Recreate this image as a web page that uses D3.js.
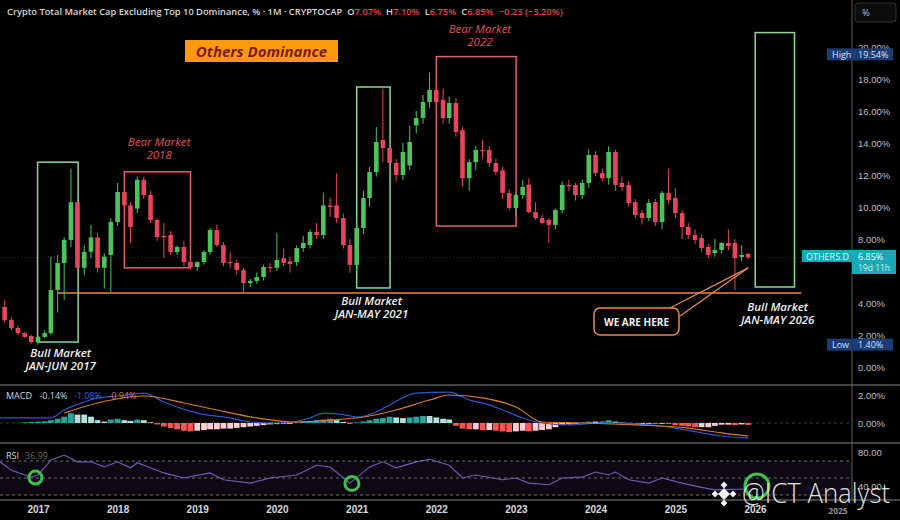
<!DOCTYPE html>
<html>
<head>
<meta charset="utf-8">
<script src="https://cdn.jsdelivr.net/npm/d3@7"></script>
<style>
  body { margin: 0; background: #000; }
  svg { display: block; font-family: "Open Sans", "DejaVu Sans", sans-serif; }
</style>
</head>
<body>
<svg></svg>
<script>
// monthly candles: month, open, high, low, close (in %)
let candles = [
  ['2016-08', 3.75, 4.2, 2.8, 2.94], ['2016-09', 2.94, 3.1, 2.3, 2.44], ['2016-10', 2.44, 2.6, 2.0, 2.12],
  ['2016-11', 2.12, 2.2, 1.8, 1.88], ['2016-12', 1.94, 2.0, 1.45, 1.56],
  ['2017-01', 1.56, 1.95, 1.4, 1.88], ['2017-02', 1.88, 2.3, 1.8, 2.12], ['2017-03', 2.12, 6.9, 2.0, 4.81],
  ['2017-04', 4.81, 7.0, 3.4, 6.5], ['2017-05', 6.5, 8.1, 4.2, 7.94], ['2017-06', 7.94, 12.4, 7.5, 10.3],
  ['2017-07', 10.3, 10.6, 6.0, 6.2], ['2017-08', 6.2, 7.6, 5.75, 7.2], ['2017-09', 7.2, 8.9, 6.8, 8.1],
  ['2017-10', 8.1, 8.4, 5.9, 6.2], ['2017-11', 6.2, 7.1, 4.9, 6.9], ['2017-12', 7.0, 9.3, 4.7, 9.06],
  ['2018-01', 9.06, 11.5, 8.8, 10.94], ['2018-02', 10.94, 11.1, 9.6, 10.1], ['2018-03', 10.1, 10.3, 7.75, 8.75],
  ['2018-04', 9.9, 11.9, 9.6, 11.7], ['2018-05', 11.7, 11.9, 10.5, 10.75], ['2018-06', 10.75, 11.0, 9.0, 9.19],
  ['2018-07', 9.19, 9.3, 7.9, 8.12], ['2018-08', 8.2, 9.0, 6.8, 8.1], ['2018-09', 8.25, 8.5, 7.0, 7.19],
  ['2018-10', 7.19, 7.6, 7.0, 7.5], ['2018-11', 7.5, 7.9, 6.3, 6.56], ['2018-12', 6.56, 6.7, 6.1, 6.25],
  ['2019-01', 6.25, 6.6, 6.0, 6.56], ['2019-02', 6.56, 7.3, 6.4, 7.19], ['2019-03', 7.19, 8.7, 7.0, 8.56],
  ['2019-04', 8.56, 8.9, 7.5, 7.62], ['2019-05', 7.62, 7.8, 6.3, 6.5], ['2019-06', 6.56, 7.2, 6.2, 6.5],
  ['2019-07', 6.5, 6.7, 5.8, 6.06], ['2019-08', 6.06, 6.2, 4.6, 5.25], ['2019-09', 5.25, 5.5, 5.0, 5.38],
  ['2019-10', 5.38, 5.9, 5.2, 5.62], ['2019-11', 5.62, 6.4, 5.4, 6.25], ['2019-12', 6.25, 6.5, 5.9, 6.2],
  ['2020-01', 6.2, 8.4, 6.0, 6.69], ['2020-02', 6.8, 7.4, 6.3, 6.5], ['2020-03', 6.6, 6.9, 5.9, 6.44],
  ['2020-04', 6.56, 7.6, 6.3, 7.44], ['2020-05', 7.44, 8.2, 7.2, 7.75], ['2020-06', 7.62, 8.6, 7.4, 8.44],
  ['2020-07', 8.44, 9.0, 8.0, 8.25], ['2020-08', 8.25, 10.9, 8.0, 10.1], ['2020-09', 10.1, 10.6, 9.4, 10.0],
  ['2020-10', 10.1, 12.1, 9.0, 9.31], ['2020-11', 9.31, 9.6, 7.4, 7.62], ['2020-12', 7.62, 8.0, 5.9, 6.38],
  ['2021-01', 6.38, 9.0, 6.0, 8.69], ['2021-02', 8.69, 11.0, 8.3, 10.56], ['2021-03', 10.56, 12.5, 10.0, 12.19],
  ['2021-04', 12.19, 15.0, 11.9, 14.06], ['2021-05', 14.19, 17.4, 12.8, 13.69], ['2021-06', 13.69, 14.0, 12.2, 12.75],
  ['2021-07', 12.75, 13.0, 11.6, 12.0], ['2021-08', 12.0, 14.0, 11.7, 13.44], ['2021-09', 12.6, 15.1, 12.3, 14.06],
  ['2021-10', 15.1, 16.0, 14.6, 15.56], ['2021-11', 15.56, 17.0, 15.2, 16.56], ['2021-12', 16.56, 18.4, 16.2, 17.31],
  ['2022-01', 17.31, 17.6, 16.3, 16.56], ['2022-02', 16.7, 17.4, 15.2, 15.56], ['2022-03', 15.56, 16.9, 15.2, 16.5],
  ['2022-04', 16.5, 16.8, 14.4, 14.69], ['2022-05', 14.8, 15.0, 11.3, 11.8], ['2022-06', 11.8, 13.0, 11.0, 12.8],
  ['2022-07', 12.8, 13.8, 12.3, 13.56], ['2022-08', 13.56, 14.2, 13.0, 13.5], ['2022-09', 13.56, 13.8, 12.5, 12.75],
  ['2022-10', 12.75, 13.0, 12.0, 12.19], ['2022-11', 12.3, 12.5, 10.5, 10.88], ['2022-12', 10.88, 11.1, 9.8, 9.94],
  ['2023-01', 9.94, 10.9, 9.4, 10.75], ['2023-02', 10.75, 11.7, 10.5, 11.25], ['2023-03', 11.4, 11.8, 9.6, 9.69],
  ['2023-04', 9.69, 10.3, 9.2, 9.31], ['2023-05', 9.31, 9.5, 8.9, 9.0], ['2023-06', 9.19, 9.3, 7.75, 8.88],
  ['2023-07', 8.88, 9.9, 8.6, 9.81], ['2023-08', 9.81, 11.6, 9.6, 11.38], ['2023-09', 11.38, 11.7, 11.0, 11.3],
  ['2023-10', 11.38, 11.5, 10.4, 10.75], ['2023-11', 10.75, 11.7, 10.5, 11.5], ['2023-12', 11.5, 13.6, 11.2, 13.25],
  ['2024-01', 13.25, 13.5, 11.9, 12.12], ['2024-02', 12.12, 12.4, 11.6, 11.8], ['2024-03', 11.8, 13.8, 11.4, 13.44],
  ['2024-04', 13.44, 13.6, 11.0, 11.38], ['2024-05', 11.5, 11.9, 11.0, 11.25], ['2024-06', 11.38, 11.6, 10.0, 10.25],
  ['2024-07', 10.3, 10.5, 9.3, 9.5], ['2024-08', 9.62, 9.8, 8.9, 9.31], ['2024-09', 9.31, 10.5, 9.1, 10.25],
  ['2024-10', 10.31, 10.5, 8.8, 9.06], ['2024-11', 9.06, 11.0, 8.6, 10.88], ['2024-12', 10.88, 12.4, 10.2, 10.44],
  ['2025-01', 10.56, 11.2, 9.3, 9.62], ['2025-02', 9.62, 9.8, 8.0, 8.75], ['2025-03', 8.75, 9.0, 8.0, 8.25],
  ['2025-04', 8.25, 8.6, 7.7, 7.94], ['2025-05', 8.06, 8.3, 7.2, 7.44], ['2025-06', 7.5, 7.7, 6.8, 7.0],
  ['2025-07', 7.12, 8.0, 6.9, 7.31], ['2025-08', 7.31, 7.8, 7.1, 7.75], ['2025-09', 7.75, 8.6, 7.3, 7.56],
  ['2025-10', 7.75, 8.0, 4.8, 6.81], ['2025-11', 6.88, 7.6, 6.6, 7.0], ['2025-12', 7.07, 7.10, 6.75, 6.85]
];

// MACD histogram, one value per month starting Nov 2016
let histStart = '2016-11';
let macdHist = [
  0.05, 0.08,
  0.1, 0.12, 0.2, 0.3, 0.45, 0.7, 0.6, 0.6, 0.45, 0.2, 0.1, 0.25,
  0.3, 0.2, 0.15, 0.25, 0.2, 0.05, -0.1, -0.25, -0.35, -0.45, -0.55, -0.6,
  -0.55, -0.5, -0.45, -0.45, -0.4, -0.4, -0.35, -0.3, -0.25, -0.2, -0.15, -0.1,
  -0.08, -0.05, -0.02, 0.05, 0.1, 0.15, 0.2, 0.25, 0.3, 0.2, 0.08, 0.02,
  0.05, 0.1, 0.2, 0.3, 0.35, 0.45, 0.4, 0.35, 0.4, 0.45, 0.5, 0.5,
  0.4, 0.3, 0.25, -0.2, -0.4, -0.45, -0.45, -0.5, -0.5, -0.55, -0.6, -0.65,
  -0.6, -0.55, -0.6, -0.55, -0.5, -0.45, -0.3, -0.15, -0.1, -0.05, 0.05, 0.1,
  0.1, 0.12, 0.2, 0.1, 0.05, -0.05, -0.1, -0.1, -0.05, -0.08, -0.05, -0.08,
  -0.15, -0.2, -0.25, -0.3, -0.3, -0.3, -0.2, -0.12, -0.12, -0.15, -0.1, -0.14
];

// MACD line (blue) and signal (orange)
let macdLine = [
  ['2016-07', 0.36], ['2017-03', 0.36], ['2017-05', 0.93], ['2017-08', 1.5], ['2017-10', 1.79],
  ['2018-01', 1.93], ['2018-05', 2.14], ['2018-08', 1.5], ['2019-01', 0.71], ['2019-06', 0.36],
  ['2019-09', 0.07], ['2020-01', 0.0], ['2020-06', 0.36], ['2020-08', 0.71], ['2020-11', 0.6],
  ['2021-01', 0.43], ['2021-04', 0.79], ['2021-06', 1.29], ['2021-10', 2.14], ['2022-03', 2.2],
  ['2022-06', 1.64], ['2022-09', 1.29], ['2022-11', 0.93], ['2023-02', 0.36], ['2023-05', 0.0],
  ['2023-09', -0.14], ['2024-02', 0.0], ['2024-05', 0.0], ['2024-09', -0.14], ['2025-01', -0.36],
  ['2025-05', -0.71], ['2025-08', -0.93], ['2025-12', -1.08]
];
let signalLine = [
  ['2017-05', 0.71], ['2017-10', 1.43], ['2018-05', 1.93], ['2018-11', 1.43], ['2019-04', 0.93],
  ['2019-10', 0.36], ['2020-04', 0.07], ['2020-09', 0.21], ['2021-02', 0.43], ['2021-07', 0.93],
  ['2021-12', 1.64], ['2022-03', 2.0], ['2022-08', 1.79], ['2023-01', 1.14], ['2023-05', 0.07],
  ['2023-11', 0.0], ['2024-07', -0.14], ['2025-03', -0.36], ['2025-08', -0.71], ['2025-12', -0.94]
];

// RSI
let rsiLine = [
  ['2016-07', 71], ['2016-09', 59], ['2016-12', 51], ['2017-01', 53.5], ['2017-03', 71], ['2017-05', 77],
  ['2017-07', 69], ['2017-09', 69], ['2017-11', 63], ['2018-01', 69], ['2018-03', 62], ['2018-04', 68],
  ['2018-08', 56], ['2018-11', 50], ['2019-03', 56], ['2019-05', 48], ['2019-09', 44], ['2019-12', 50],
  ['2020-04', 53.5], ['2020-07', 65], ['2020-09', 63], ['2020-12', 44], ['2021-03', 63], ['2021-05', 69],
  ['2021-07', 62], ['2021-10', 69], ['2021-12', 72], ['2022-03', 65], ['2022-05', 50], ['2022-07', 53.5],
  ['2022-11', 48], ['2023-01', 50], ['2023-03', 44], ['2023-06', 42], ['2023-08', 50], ['2023-11', 51],
  ['2024-01', 57], ['2024-03', 53.5], ['2024-04', 57], ['2024-06', 48], ['2024-09', 44], ['2024-11', 50],
  ['2025-02', 44], ['2025-05', 39], ['2025-07', 36], ['2025-12', 37]
];

let priceTicks = [0, 2, 4, 8, 10, 12, 14, 16, 18, 20];
let yearTicks = ['2017', '2018', '2019', '2020', '2021', '2022', '2023', '2024', '2025', '2026'];

let width = 900;
let height = 520;
let axisX = 852;

let parseMonth = d3.timeParse('%Y-%m');
let svg = d3.select('svg').attr('width', width).attr('height', height);

let xScale = d3.scaleTime()
  .domain([new Date(2017, 0, 1), new Date(2026, 0, 1)])
  .range([38, 755]);
let yScale = d3.scaleLinear().domain([0, 20]).range([367, 47]);
let macdScale = d3.scaleLinear().domain([0, 2]).range([423, 395]);
let rsiScale = d3.scaleLinear().domain([30, 70]).range([495, 461]);

let green = '#4cc35c';
let red = '#e8455a';

// background
svg.append('rect').attr('width', width).attr('height', height).attr('fill', '#000');

// pane separators + price axis divider
[385, 443, 500].forEach(y => {
  svg.append('line').attr('x1', 0).attr('x2', width).attr('y1', y).attr('y2', y)
     .attr('stroke', '#5a5a5a').attr('stroke-width', 1.5);
});
svg.append('line').attr('x1', axisX).attr('x2', axisX).attr('y1', 0).attr('y2', 500)
   .attr('stroke', '#5a5a5a').attr('stroke-width', 1);

// current price line
svg.append('line').attr('x1', 0).attr('x2', axisX)
   .attr('y1', yScale(6.85)).attr('y2', yScale(6.85))
   .attr('stroke', '#2e2e2e').attr('stroke-dasharray', '1,2');

// support line
svg.append('line')
   .attr('x1', xScale(new Date(2017, 3, 1))).attr('x2', xScale(new Date(2026, 7, 1)))
   .attr('y1', yScale(4.62)).attr('y2', yScale(4.62))
   .attr('stroke', '#e8894a').attr('stroke-width', 1.5);

// annotation boxes
let boxes = [
  { x0: new Date(2016, 11, 30), x1: new Date(2017, 6, 4), y0: 1.56, y1: 12.8, c: '#8fd694' },
  { x0: new Date(2018, 1, 1), x1: new Date(2018, 11, 1), y0: 6.2, y1: 12.2, c: '#e0606a' },
  { x0: new Date(2021, 0, 1), x1: new Date(2021, 5, 3), y0: 4.94, y1: 17.5, c: '#8fd694' },
  { x0: new Date(2022, 0, 1), x1: new Date(2023, 0, 2), y0: 8.81, y1: 19.4, c: '#e0606a' },
  { x0: new Date(2026, 0, 2), x1: new Date(2026, 6, 1), y0: 5.0, y1: 20.9, c: '#8fd694' }
];
svg.selectAll('rect.box').data(boxes).enter().append('rect')
   .attr('class', 'box')
   .attr('x', d => xScale(d.x0)).attr('width', d => xScale(d.x1) - xScale(d.x0))
   .attr('y', d => yScale(d.y1)).attr('height', d => yScale(d.y0) - yScale(d.y1))
   .attr('fill', 'none').attr('stroke', d => d.c).attr('stroke-width', 1.5);

// candles
let bodyW = 4.6;
let candleG = svg.append('g');
candleG.selectAll('line').data(candles).enter().append('line')
   .attr('x1', d => xScale(parseMonth(d[0]))).attr('x2', d => xScale(parseMonth(d[0])))
   .attr('y1', d => yScale(d[2])).attr('y2', d => yScale(d[3]))
   .attr('stroke', d => d[4] >= d[1] ? green : red).attr('stroke-width', 1);
candleG.selectAll('rect').data(candles).enter().append('rect')
   .attr('x', d => xScale(parseMonth(d[0])) - bodyW / 2)
   .attr('width', bodyW)
   .attr('y', d => yScale(Math.max(d[1], d[4])))
   .attr('height', d => Math.max(1.2, Math.abs(yScale(d[1]) - yScale(d[4]))))
   .attr('fill', d => d[4] >= d[1] ? green : red);

// price axis
let yAxis = d3.axisRight(yScale).tickValues(priceTicks).tickSize(0).tickPadding(6)
  .tickFormat(d => d.toFixed(2) + '%');
let yAxisG = svg.append('g').attr('transform', 'translate(' + axisX + ',0)').call(yAxis);
yAxisG.select('.domain').remove();
yAxisG.selectAll('text').attr('fill', '#b8bcc6').style('font-size', '9.5px');

// MACD pane
svg.append('line').attr('x1', 0).attr('x2', axisX)
   .attr('y1', macdScale(0)).attr('y2', macdScale(0))
   .attr('stroke', '#3a3a3a').attr('stroke-dasharray', '3,3');
let histMonth0 = parseMonth(histStart);
let histData = macdHist.map((v, i) => ({ date: d3.timeMonth.offset(histMonth0, i), v: v, prev: i ? macdHist[i - 1] : 0 }));
svg.selectAll('rect.hist').data(histData).enter().append('rect')
   .attr('class', 'hist')
   .attr('x', d => xScale(d.date) - 2.9)
   .attr('width', 5.8)
   .attr('y', d => Math.min(macdScale(d.v), macdScale(0)))
   .attr('height', d => Math.max(0.8, Math.abs(macdScale(d.v) - macdScale(0))))
   .attr('fill', d => d.v >= 0 ? (d.v > d.prev ? '#26a69a' : '#b2dfdb') : (d.v < d.prev ? '#ff5252' : '#ffcdd2'));

let macdPath = d3.line()
  .x(d => xScale(parseMonth(d[0])))
  .y(d => macdScale(d[1]))
  .curve(d3.curveMonotoneX);
svg.append('path').attr('d', macdPath(macdLine)).attr('fill', 'none')
   .attr('stroke', '#2f56c8').attr('stroke-width', 1.2);
svg.append('path').attr('d', macdPath(signalLine)).attr('fill', 'none')
   .attr('stroke', '#d9782f').attr('stroke-width', 1.2);

let macdAxis = d3.axisRight(macdScale).tickValues([0, 2]).tickSize(0).tickPadding(6)
  .tickFormat(d => d.toFixed(2) + '%');
let macdAxisG = svg.append('g').attr('transform', 'translate(' + axisX + ',0)').call(macdAxis);
macdAxisG.select('.domain').remove();
macdAxisG.selectAll('text').attr('fill', '#b8bcc6').style('font-size', '9.5px');

let macdLabel = svg.append('text').attr('x', 6).attr('y', 399).style('font-size', '9px');
macdLabel.append('tspan').text('MACD').attr('fill', '#d6d6d6');
macdLabel.append('tspan').text(' -0.14%').attr('fill', '#d6d6d6').attr('dx', 5);
macdLabel.append('tspan').text(' -1.08%').attr('fill', '#3d63d8').attr('dx', 4);
macdLabel.append('tspan').text(' -0.94%').attr('fill', '#d9782f').attr('dx', 4);

// RSI pane
svg.append('rect').attr('x', 0).attr('width', axisX)
   .attr('y', rsiScale(70)).attr('height', rsiScale(30) - rsiScale(70))
   .attr('fill', '#7e57c2').attr('opacity', 0.1);
[70, 50, 30].forEach(v => {
  svg.append('line').attr('x1', 0).attr('x2', axisX)
     .attr('y1', rsiScale(v)).attr('y2', rsiScale(v))
     .attr('stroke', '#6b6b6b').attr('stroke-dasharray', '3,3');
});
let rsiPath = d3.line().x(d => xScale(parseMonth(d[0]))).y(d => rsiScale(d[1]));
svg.append('path').attr('d', rsiPath(rsiLine)).attr('fill', 'none')
   .attr('stroke', '#6f5db8').attr('stroke-width', 1.1);

let rsiAxis = d3.axisRight(rsiScale).tickValues([40, 80]).tickSize(0).tickPadding(6)
  .tickFormat(d => d.toFixed(2));
let rsiAxisG = svg.append('g').attr('transform', 'translate(' + axisX + ',0)').call(rsiAxis);
rsiAxisG.select('.domain').remove();
rsiAxisG.selectAll('text').attr('fill', '#b8bcc6').style('font-size', '9.5px');

let rsiLabel = svg.append('text').attr('x', 6).attr('y', 459).style('font-size', '9px');
rsiLabel.append('tspan').text('RSI').attr('fill', '#d6d6d6');
rsiLabel.append('tspan').text('36.99').attr('fill', '#6a6478').attr('dx', 6);

// RSI circles
let rsiMarks = [
  { d: new Date(2016, 11, 20), v: 50.5, r: 6.5 },
  { d: new Date(2020, 11, 10), v: 43.5, r: 7 },
  { d: new Date(2026, 0, 10), v: 40.5, r: 12 }
];
svg.selectAll('circle.mark').data(rsiMarks).enter().append('circle')
   .attr('class', 'mark')
   .attr('cx', d => xScale(d.d)).attr('cy', d => rsiScale(d.v)).attr('r', d => d.r)
   .attr('fill', 'none').attr('stroke', '#3fc04c').attr('stroke-width', 3);

// time axis
let xAxis = d3.axisBottom(xScale)
  .tickValues(yearTicks.map(y => new Date(+y, 0, 1)))
  .tickSize(0).tickPadding(6).tickFormat(d3.timeFormat('%Y'));
let xAxisG = svg.append('g').attr('transform', 'translate(0,500)').call(xAxis);
xAxisG.select('.domain').remove();
xAxisG.selectAll('text').attr('fill', '#d6d8de').style('font-size', '10px').style('font-weight', 'bold');
svg.append('text').attr('x', 838).attr('y', 514).attr('text-anchor', 'middle')
   .attr('fill', '#8a8d94').style('font-size', '8.5px').style('font-weight', 'bold').text('2025');

// header
let head = svg.append('text').attr('x', 7).attr('y', 15).style('font-size', '9.3px').style('font-weight', '600');
head.append('tspan').attr('fill', '#d8d8d8').text('Crypto Total Market Cap Excluding Top 10 Dominance, % · 1M · CRYPTOCAP');
[['O', '7.07%'], ['H', '7.10%'], ['L', '6.75%'], ['C', '6.85%']].forEach(p => {
  head.append('tspan').attr('fill', '#d8d8d8').attr('dx', 5).text(p[0]);
  head.append('tspan').attr('fill', '#e0434f').text(p[1]);
});
head.append('tspan').attr('fill', '#e0434f').attr('dx', 5).text('−0.23 (−3.20%)');

// title tag
svg.append('rect').attr('x', 185).attr('y', 40).attr('width', 153).attr('height', 22).attr('fill', '#ff9a10');
svg.append('text').attr('x', 261.5).attr('y', 56.5).attr('text-anchor', 'middle')
   .attr('fill', '#7a1a08').style('font-size', '15px').style('font-weight', 'bold').style('font-style', 'italic')
   .text('Others Dominance');

// box captions
let captions = [
  { x: new Date(2018, 6, 10), y: 146, lines: ['Bear Market', '2018'], c: '#e0505a', w: 'normal' },
  { x: new Date(2022, 6, 20), y: 33, lines: ['Bear Market', '2022'], c: '#e0505a', w: 'normal' },
  { x: new Date(2017, 3, 15), y: 357, lines: ['Bull Market', 'JAN-JUN 2017'], c: '#f0f0f0', w: '600' },
  { x: new Date(2021, 2, 10), y: 305, lines: ['Bull Market', 'JAN-MAY 2021'], c: '#f0f0f0', w: '600' },
  { x: new Date(2026, 3, 15), y: 311, lines: ['Bull Market', 'JAN-MAY 2026'], c: '#f0f0f0', w: '600' }
];
captions.forEach(c => {
  let t = svg.append('text').attr('text-anchor', 'middle').attr('fill', c.c)
     .style('font-size', '11.5px').style('font-style', 'italic').style('font-weight', c.w);
  c.lines.forEach((s, i) => {
    t.append('tspan').attr('x', xScale(c.x)).attr('y', c.y + i * 13).text(s);
  });
});

// "WE ARE HERE" callout
let tipX = xScale(new Date(2025, 11, 1));
let tipY = yScale(6.2);
svg.append('line').attr('x1', 668).attr('y1', 309).attr('x2', tipX).attr('y2', tipY)
   .attr('stroke', '#e8894a').attr('stroke-width', 1.3);
svg.append('line').attr('x1', 680).attr('y1', 316).attr('x2', tipX).attr('y2', tipY)
   .attr('stroke', '#e8894a').attr('stroke-width', 1.3);
svg.append('rect').attr('x', 594).attr('y', 308).attr('width', 85).attr('height', 27).attr('rx', 6)
   .attr('fill', '#000').attr('stroke', '#e8894a').attr('stroke-width', 1.5);
svg.append('text').attr('x', 636.5).attr('y', 326).attr('text-anchor', 'middle').attr('fill', '#f2f2f2')
   .style('font-size', '10px').style('font-weight', 'bold').text('WE ARE HERE');

// axis badges
svg.append('rect').attr('x', 855).attr('y', 3).attr('width', 41).attr('height', 19).attr('rx', 3)
   .attr('fill', '#0c0c0c').attr('stroke', '#333');
svg.append('text').attr('x', 862).attr('y', 16).attr('fill', '#b8bcc6').style('font-size', '9.5px').text('%');

let badge = (y, label, value) => {
  svg.append('rect').attr('x', 827).attr('y', y).attr('width', 66).attr('height', 12).attr('fill', '#1d3b73');
  svg.append('text').attr('x', 832).attr('y', y + 9.5).attr('fill', '#cfe0ff').style('font-size', '9px').text(label);
  svg.append('text').attr('x', 858).attr('y', y + 9.5).attr('fill', '#cfe0ff').style('font-size', '9px').text(value);
};
badge(yScale(19.54) - 6, 'High', '19.54%');
badge(yScale(1.40) - 6, 'Low', '1.40%');

svg.append('rect').attr('x', 802).attr('y', 250).attr('width', 50).attr('height', 12).attr('fill', '#1aa8b6');
svg.append('rect').attr('x', 852).attr('y', 250).attr('width', 44).attr('height', 24).attr('fill', '#1aa8b6');
svg.append('text').attr('x', 806).attr('y', 259.5).attr('fill', '#dff8fb').style('font-size', '9px').text('OTHERS.D');
svg.append('text').attr('x', 858).attr('y', 259.5).attr('fill', '#eafcff').style('font-size', '9px').text('6.85%');
svg.append('text').attr('x', 858).attr('y', 271).attr('fill', '#c9f2f6').style('font-size', '8.5px').text('19d 11h');

// watermark
let logo = svg.append('g').attr('transform', 'translate(724,494)').attr('fill', '#f0f0f0');
[[0, 0, 4.2], [-9, 0, 2.4], [9, 0, 2.4], [0, -9, 2.4], [0, 9, 2.4]].forEach(p => {
  logo.append('rect').attr('x', p[0] - p[2]).attr('y', p[1] - p[2]).attr('width', p[2] * 2).attr('height', p[2] * 2)
      .attr('transform', 'rotate(45,' + p[0] + ',' + p[1] + ')');
});
svg.append('text').attr('x', 742).attr('y', 503).attr('fill', '#f2f2f2').attr('opacity', 0.92)
   .attr('textLength', 148).attr('lengthAdjust', 'spacingAndGlyphs')
   .style('font-size', '27px').style('font-weight', '300').text('@ICT Analyst');
</script>
</body>
</html>
